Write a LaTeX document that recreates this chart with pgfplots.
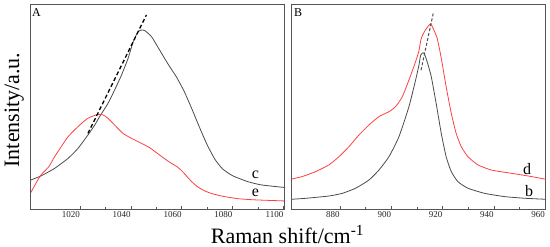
\documentclass[border=0pt]{standalone}
\usepackage{fontspec}
\setmainfont{Liberation Serif}
\usepackage{pgfplots}
\pgfplotsset{compat=1.18}
\usepackage{pgfplotstable}

\definecolor{framec}{RGB}{85,85,85}
\definecolor{cblack}{RGB}{75,75,75}
\definecolor{cred}{RGB}{255,64,64}

\pgfplotstableread{
x y
1000.6 0.143
1004.8 0.164
1010.0 0.200
1015.3 0.249
1019.2 0.298
1023.1 0.363
1025.8 0.412
1027.7 0.453
1031.0 0.518
1033.6 0.583
1036.3 0.656
1038.9 0.738
1040.9 0.819
1042.8 0.868
1044.2 0.876
1045.5 0.873
1048.1 0.844
1050.5 0.795
1054.5 0.712
1058.0 0.645
1061.0 0.575
1064.0 0.490
1067.0 0.400
1070.0 0.315
1073.0 0.245
1076.0 0.198
1080.0 0.164
1086.0 0.135
1091.4 0.119
1100.2 0.107
}\seriesc

\pgfplotstableread{
x y
1000.6 0.081
1004.4 0.164
1007.7 0.208
1010.0 0.257
1012.6 0.306
1015.3 0.355
1019.2 0.404
1023.1 0.445
1027.1 0.464
1029.1 0.461
1031.0 0.445
1033.6 0.412
1036.9 0.371
1040.2 0.347
1044.2 0.322
1047.5 0.300
1051.0 0.268
1055.0 0.232
1058.5 0.205
1061.0 0.175
1063.5 0.140
1066.0 0.112
1069.0 0.090
1072.0 0.076
1076.0 0.064
1082.0 0.052
1089.0 0.046
1100.2 0.041
}\seriese

\pgfplotstableread{
x y
861.2 0.148
865.3 0.160
870.5 0.184
875.7 0.217
879.6 0.257
883.5 0.306
887.4 0.363
891.3 0.412
895.2 0.453
899.1 0.477
901.7 0.502
904.3 0.550
906.9 0.632
909.5 0.722
910.8 0.775
911.7 0.836
913.3 0.876
915.3 0.906
916.6 0.876
917.9 0.836
919.5 0.738
921.4 0.599
923.4 0.469
925.3 0.371
927.3 0.306
929.9 0.257
933.8 0.217
939.0 0.192
946.8 0.176
953.3 0.163
960.2 0.147
}\seriesd

\pgfplotstableread{
x y
861.2 0.049
866.9 0.054
875.7 0.065
880.9 0.078
886.1 0.103
891.3 0.143
895.2 0.192
899.1 0.257
903.0 0.355
906.9 0.502
909.5 0.632
910.8 0.705
911.5 0.754
912.7 0.765
914.0 0.721
915.6 0.648
917.5 0.518
919.5 0.371
921.4 0.257
923.4 0.184
926.0 0.135
929.9 0.103
936.4 0.078
944.2 0.062
952.0 0.054
960.2 0.049
}\seriesb

\pgfplotsset{
  panel/.style={
    scale only axis,
    height=204.6bp,
    ymin=0, ymax=1,
    ytick=\empty,
    axis line style={framec, line width=0.9bp},
    tick align=inside,
    xtick pos=bottom,
    minor x tick num=1,
    major tick length=3bp,
    minor tick length=2bp,
    every tick/.style={framec, line width=0.7bp},
    xticklabel style={font=\fontsize{9bp}{10bp}\selectfont, anchor=north east, inner sep=1bp, xshift=1bp, yshift=-1bp, text=black!85},
    /pgf/number format/assume math mode=true,
    /pgf/number format/1000 sep={},
  },
  curve/.style={line width=0.8bp, smooth, tension=0.35, no marks},
}

\begin{document}
\begin{tikzpicture}
\useasboundingbox (0,0) rectangle (550bp,247bp);
\begin{axis}[panel, at={(30.7bp,37.7bp)}, anchor=south west, width=253.3bp,
  xmin=1000.6, xmax=1100.2, xtick={1020,1040,1060,1080,1100}]
  \addplot[curve, cblack] table {\seriesc};
  \addplot[curve, cred] table {\seriese};
  \addplot[black, line width=1.3bp, dash pattern=on 4bp off 2.5bp] coordinates {(1023.1,0.371) (1046.1,0.95)};
  \node[font=\fontsize{16bp}{18bp}\selectfont] at (axis cs:1089,0.168) {c};
  \node[font=\fontsize{16bp}{18bp}\selectfont] at (axis cs:1089,0.081) {e};
  \node[anchor=base west, font=\fontsize{12bp}{14bp}\selectfont, inner sep=0pt] at (rel axis cs:0,1) [xshift=1.2bp, yshift=-12bp] {A};
\end{axis}
\begin{axis}[panel, at={(291.7bp,37.7bp)}, anchor=south west, width=254bp,
  xmin=861.2, xmax=960.2, xtick={880,900,920,940,960}]
  \addplot[curve, cred] table {\seriesd};
  \addplot[curve, cblack] table {\seriesb};
  \addplot[black!70, line width=1bp, dash pattern=on 3bp off 2bp] coordinates {(911.6,0.68) (916.4,0.96)};
  \node[font=\fontsize{16bp}{18bp}\selectfont] at (axis cs:953,0.197) {d};
  \node[font=\fontsize{16bp}{18bp}\selectfont] at (axis cs:953.7,0.091) {b};
  \node[anchor=base west, font=\fontsize{12bp}{14bp}\selectfont, inner sep=0pt] at (rel axis cs:0,1) [xshift=2.3bp, yshift=-12bp] {B};
\end{axis}
\node[anchor=base, font=\fontsize{22bp}{24bp}\selectfont, inner sep=0pt] at (287.5bp,4bp) {Raman shift/cm\textsuperscript{-1}};
\node[anchor=base, rotate=90, font=\fontsize{22bp}{24bp}\selectfont, inner sep=0pt] at (19bp,137bp) {Intensity/a.u.};
\end{tikzpicture}
\end{document}
